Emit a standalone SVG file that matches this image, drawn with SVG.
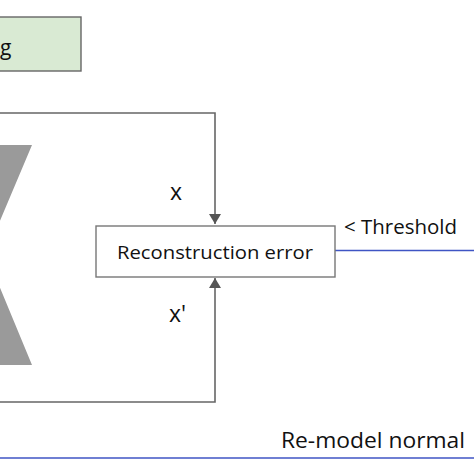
<svg xmlns="http://www.w3.org/2000/svg" width="474" height="474" viewBox="0 0 474 474">
<style>
.t{font-family:"Open Sans",Lato,"Liberation Sans",sans-serif;fill:#111}
.ln{fill:none;stroke:#666;stroke-width:1.6}
.bl{fill:none;stroke:#3f55c4;stroke-width:1.6}
</style>
<defs>
<marker id="ah" viewBox="0 0 10 12" refX="10" refY="6" markerWidth="10" markerHeight="12" markerUnits="userSpaceOnUse" orient="auto">
<path d="M0,0 L10,6 L0,12 Z" fill="#555"/>
</marker>
</defs>
<rect width="474" height="474" fill="#fff"/>
<g id="train-box">
<rect x="-10" y="17" width="91" height="54" fill="#d9ead3" stroke="#666" stroke-width="1.4"/>
<text class="t" x="0" y="55" font-size="21">g</text>
</g>
<g id="decoder">
<polygon points="-60,145 32,145 -14,254 32,365 -60,365" fill="#9a9a9a"/>
</g>
<g id="connectors">
<path class="ln" d="M0,113 H215 V224" marker-end="url(#ah)"/>
<path class="ln" d="M0,402 H215 V278" marker-end="url(#ah)"/>
<path class="bl" d="M335,250.5 H474"/>
<path class="bl" d="M0,458 H474"/>
</g>
<g id="recon">
<rect x="96" y="226" width="239" height="51" fill="#fff" stroke="#777" stroke-width="1.4"/>
<text class="t" x="117" y="259" font-size="18.5" textLength="196" lengthAdjust="spacingAndGlyphs">Reconstruction error</text>
</g>
<g id="labels">
<text class="t" x="170" y="200" font-size="23">x</text>
<text class="t" x="169" y="322" font-size="23">x'</text>
<text class="t" x="344" y="234" font-size="20" textLength="113" lengthAdjust="spacingAndGlyphs">&lt; Threshold</text>
<text class="t" x="281" y="448" font-size="22.5" textLength="184" lengthAdjust="spacingAndGlyphs">Re-model normal</text>
</g>
</svg>
